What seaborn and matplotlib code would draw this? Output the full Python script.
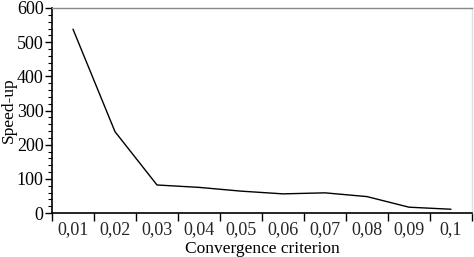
import matplotlib
matplotlib.use("Agg")
import matplotlib.pyplot as plt
import seaborn as sns
import pandas as pd
from matplotlib.ticker import MultipleLocator, FixedLocator

categories = ["0,01", "0,02", "0,03", "0,04", "0,05", "0,06", "0,07", "0,08", "0,09", "0,1"]
speedup = [538, 238, 82, 75, 64, 56, 59, 48, 17, 11]

sns.set_theme(style="white")
plt.rcParams['font.family'] = ['Liberation Serif', 'DejaVu Serif']

df = pd.DataFrame({"crit": categories, "speedup": speedup})

fig = plt.figure(figsize=(4.74, 2.57), dpi=100)
ax = fig.add_axes([52/474, 1-213/257, (472-52)/474, (213-8)/257])

sns.lineplot(data=df, x="crit", y="speedup", sort=False, color="black", linewidth=1.0, ax=ax)

n = len(categories)
ax.set_xlim(-0.5, n - 0.5)
ax.set_ylim(0, 600)
ax.xaxis.set_major_locator(FixedLocator([i - 0.5 for i in range(n + 1)]))
ax.xaxis.set_minor_locator(FixedLocator(list(range(n))))
ax.set_xticklabels([""] * (n + 1))
ax.set_xticklabels(categories, minor=True)
ax.tick_params(axis="x", which="major", direction="out", length=6, width=1.0, color="black", bottom=True)
ax.tick_params(axis="x", which="minor", length=0, labelsize=13, pad=6, bottom=True)

ax.yaxis.set_major_locator(MultipleLocator(100))
ax.yaxis.set_minor_locator(MultipleLocator(20))
ax.tick_params(axis="y", which="major", direction="out", length=5, width=1.0, color="black", left=True, labelsize=13, pad=1)
ax.tick_params(axis="y", which="minor", direction="out", length=3, width=0.8, color="black", left=True)

for s in ["left", "bottom"]:
    ax.spines[s].set_color("black")
    ax.spines[s].set_linewidth(1.2)
ax.spines["top"].set_color("#888888")
ax.spines["top"].set_linewidth(1.0)
ax.spines["right"].set_color("#e0e0e0")
ax.spines["right"].set_linewidth(1.0)

ax.set_xlabel("Convergence criterion", fontsize=12.5, labelpad=2, color="black")
ax.set_ylabel("Speed-up", fontsize=12.5, color="black")
ax.yaxis.set_label_coords(-0.083, 0.5)
ax.tick_params(colors="black", labelcolor="black")

fig.savefig("out.png", dpi=100)
